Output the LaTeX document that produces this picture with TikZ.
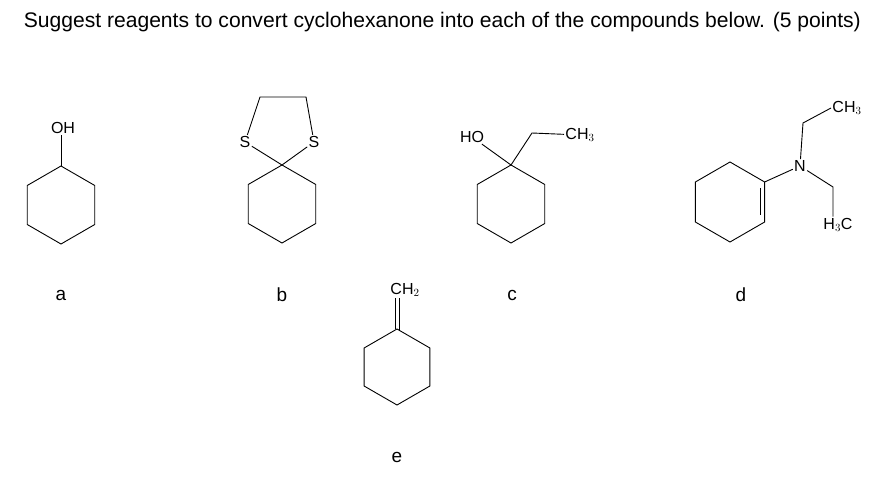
\documentclass[tikz,border=0pt]{standalone}
\usepackage{fontspec}
\setmainfont{Liberation Sans}
\begin{document}
\begin{tikzpicture}[x=1pt,y=-1pt,line width=0.9pt,
 atom/.style={font=\fontsize{16}{16}\selectfont,inner sep=1pt},
 lbl/.style={font=\fontsize{19}{19}\selectfont}]
\useasboundingbox (0,0) rectangle (889,487);
\node[anchor=west,font=\fontsize{21.1}{22}\selectfont] (title) at (20,22) {Suggest reagents to convert cyclohexanone into each of the compounds below. (5 points)};
\newcommand{\hexring}[3]{\draw (#1+0,#2-#3) -- (#1+0.866*#3,#2-0.5*#3) -- (#1+0.866*#3,#2+0.5*#3) -- (#1,#2+#3) -- (#1-0.866*#3,#2+0.5*#3) -- (#1-0.866*#3,#2-0.5*#3) -- cycle;}
% a
\hexring{61}{205}{39}
\node[atom] (oh) at (63,128) {OH};
\draw (61,166) -- (oh.south-|61,0);
% b
\hexring{282}{204}{39}
\node[atom] (s1) at (245,142) {S};
\node[atom] (s2) at (314,142) {S};
\coordinate (b1) at (260,97); \coordinate (b2) at (306,97);
\draw (s1) -- (282,165) -- (s2);
\draw (s1) -- (b1) -- (b2) -- (s2);
% c
\hexring{511}{204}{39}
\node[atom] (ho) at (472,137) {HO};
\node[atom,anchor=west] (ch3c) at (564,135) {CH$_3$};
\coordinate (c1) at (532,133);
\draw (ho) -- (511,165) -- (c1) -- (ch3c);
% d
\hexring{730}{202}{40}
\draw (760,188) -- (760,215);
\node[atom] (n) at (800,166) {N};
\draw (764.6,182) -- (n);
\coordinate (d1) at (803,123); \coordinate (d2) at (833,187); \coordinate (d3) at (833,213);
\node[atom,anchor=west] (ch3d) at (831,108) {CH$_3$};
\node[atom] (h3c) at (838,225) {H$_3$C};
\draw (n) -- (d1) -- (ch3d.west);
\draw (n) -- (d2) -- (h3c.north-|833,0);
% e
\hexring{397}{367}{38}
\node[atom] (ch2) at (405,290) {CH$_2$};
\draw (395,298) -- (395,329);
\draw (399,298) -- (399,331);
% labels
\node[lbl] (la) at (61,295) {a};
\node[lbl] (lb) at (282,295) {b};
\node[lbl] (lc) at (512,295) {c};
\node[lbl] (ld) at (741,295) {d};
\node[lbl] (le) at (397,457) {e};
\end{tikzpicture}
\end{document}
